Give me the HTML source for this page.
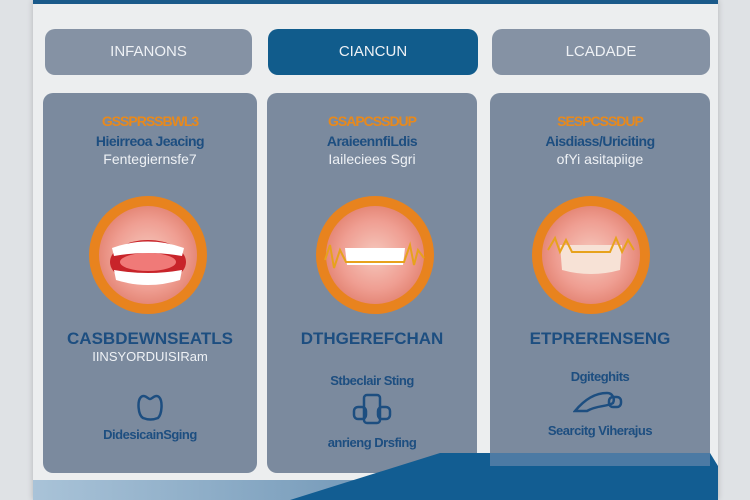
<!DOCTYPE html>
<html><head><meta charset="utf-8"><style>
*{margin:0;padding:0;box-sizing:border-box}
body{width:750px;height:500px;background:#dfe2e5;font-family:"Liberation Sans",sans-serif;position:relative;overflow:hidden}
.panel{position:absolute;left:33px;top:0;width:685px;height:500px;background:#eceeef;box-shadow:0 0 6px rgba(0,0,0,.2)}
.topbar{position:absolute;left:33px;top:0;width:685px;height:4px;background:#1a5a8a}
.tab{position:absolute;top:29px;height:46px;border-radius:10px;background:#8592a4;color:#eef1f5;font-size:15px;text-align:center;line-height:46px}
.card{position:absolute;top:93px;background:#7b8a9e;border-radius:10px;text-align:center}
.t{position:absolute;left:0;right:0;text-align:center;white-space:nowrap}
.o{color:#e8891c;font-weight:bold;font-size:14px;letter-spacing:-1px}
.b{color:#1d4e80;font-weight:bold;font-size:14px;letter-spacing:-.5px}
.w{color:#eef1f5;font-size:14px}
.big{color:#1d4e80;font-weight:bold;font-size:17px}
.sm{color:#1d4e80;font-size:13px;font-weight:bold;letter-spacing:-.5px}
</style></head><body>
<div class="panel"></div>
<div class="topbar"></div>
<div class="tab" style="left:45px;width:207px">INFANONS</div>
<div class="tab" style="left:268px;width:210px;background:#115c8c">CIANCUN</div>
<div class="tab" style="left:492px;width:218px">LCADADE</div>

<div class="card" style="left:43px;width:214px;height:380px">
<div class="t o" style="top:20px">GSSPRSSBWL3</div>
<div class="t b" style="top:40px">Hieirreoa Jeacing</div>
<div class="t w" style="top:58px">Fentegiernsfe7</div>
<div class="t big" style="top:236px">CASBDEWNSEATLS</div>
<div class="t w" style="top:256px;font-size:13px">IINSYORDUISIRam</div>
<div class="t" style="top:300px"><svg width="30" height="28"><path d="M6 4 C2 8 3 22 8 25 C13 27 18 27 23 25 C27 21 28 8 24 4 C20 1 17 6 15 6 C13 6 10 1 6 4Z" fill="none" stroke="#1d4e80" stroke-width="2.5"/></svg></div>
<div class="t sm" style="top:334px">DidesicainSging</div>
</div>

<div class="card" style="left:267px;width:210px;height:380px">
<div class="t o" style="top:20px">GSAPCSSDUP</div>
<div class="t b" style="top:40px">AraieennfiLdis</div>
<div class="t w" style="top:58px">Iaileciees Sgri</div>
<div class="t big" style="top:236px">DTHGEREFCHAN</div>
<div class="t sm" style="top:280px">Stbeclair Sting</div>
<div class="t" style="top:300px"><svg width="42" height="32"><rect x="13" y="2" width="16" height="28" rx="3" fill="none" stroke="#1d4e80" stroke-width="2.5"/><rect x="3" y="14" width="12" height="12" rx="4" fill="none" stroke="#1d4e80" stroke-width="2.5"/><rect x="27" y="14" width="12" height="12" rx="4" fill="none" stroke="#1d4e80" stroke-width="2.5"/></svg></div>
<div class="t sm" style="top:342px">anrieng Drsfing</div>
</div>

<div class="card" style="left:490px;width:220px;height:373px">
<div class="t o" style="top:20px">SESPCSSDUP</div>
<div class="t b" style="top:40px">Aisdiass/Uriciting</div>
<div class="t w" style="top:58px">ofYi asitapiige</div>
<div class="t big" style="top:236px">ETPRERENSENG</div>
<div class="t sm" style="top:276px">Dgiteghits</div>
<div class="t" style="top:296px"><svg width="54" height="26"><path d="M2 22 C12 10 22 4 34 4 C40 4 42 10 40 14 C34 18 24 16 14 22 Z" fill="none" stroke="#1d4e80" stroke-width="2.5"/><rect x="36" y="8" width="12" height="10" rx="4" fill="none" stroke="#1d4e80" stroke-width="2.5"/></svg></div>
<div class="t sm" style="top:330px">Searcitg Viherajus</div>
</div>

<svg style="position:absolute;left:0;top:0" width="750" height="500">
<defs>
<linearGradient id="g" x1="0" x2="1"><stop offset="0" stop-color="#a9c3d8"/><stop offset="1" stop-color="#3f6f98"/></linearGradient>
<radialGradient id="m"><stop offset="0" stop-color="#f6c8bd"/><stop offset=".7" stop-color="#ef9e92"/><stop offset="1" stop-color="#e58878"/></radialGradient>
</defs>
<rect x="33" y="480" width="685" height="20" fill="url(#g)"/>
<path d="M290 500 L440 453 L710 453 L718 466 L718 500 Z" fill="#125d92"/>
<path d="M490 453 L710 453 L710 466 L490 466Z" fill="#4c7aa4"/>
<circle cx="148" cy="255" r="59" fill="#e8831e"/><circle cx="148" cy="255" r="49" fill="url(#m)"/>
<ellipse cx="148" cy="262" rx="38" ry="22" fill="#c8242a"/>
<ellipse cx="148" cy="262" rx="28" ry="9" fill="#f07a78"/>
<path d="M112 248 Q148 235 184 248 L182 256 Q148 250 114 256Z" fill="#fff"/>
<path d="M114 270 Q148 276 182 270 L180 280 Q148 290 116 280Z" fill="#fff"/>
<circle cx="375" cy="255" r="59" fill="#e8831e"/><circle cx="375" cy="255" r="49" fill="url(#m)"/>
<path d="M345 248 L405 248 L403 265 L347 265Z" fill="#fff"/>
<path d="M325 260 L330 245 L334 268 L340 250 L346 262 L404 262 L410 245 L414 265 L418 250 L424 258" fill="none" stroke="#e7a21c" stroke-width="2"/>
<circle cx="591" cy="255" r="59" fill="#e8831e"/><circle cx="591" cy="255" r="49" fill="url(#m)"/>
<path d="M560 245 L622 245 L620 270 Q591 278 562 270Z" fill="#f7e2d6"/>
<path d="M548 250 L555 238 L560 252 L566 240 L572 252 L610 252 L616 238 L622 252 L628 240 L634 250" fill="none" stroke="#e7a21c" stroke-width="2"/>
</svg>
</body></html>
